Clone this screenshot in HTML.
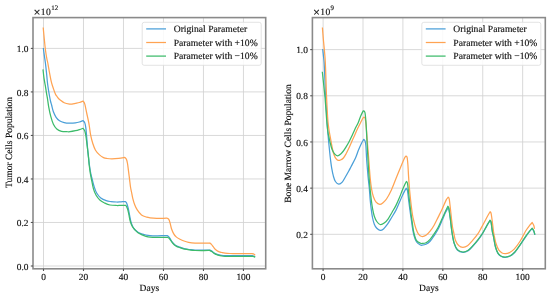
<!DOCTYPE html>
<html><head><meta charset="utf-8"><style>
html,body{margin:0;padding:0;background:#fff;}
svg{display:block;}
text{font-family:"Liberation Serif", serif;font-size:9.5px;fill:#111;stroke:#111;stroke-width:0.15px;text-rendering:geometricPrecision;}
.tl{font-size:9.4px;}
.lt{font-size:9.65px;}
.g{stroke:#d2d2d2;stroke-width:0.85;}
.sp{fill:none;stroke:#8a8a8a;stroke-width:1.6;}
.tk{stroke:#555;stroke-width:1.1;}
.lg{fill:#fff;fill-opacity:0.85;stroke:#dcdcdc;stroke-width:0.8;}
</style></head><body>
<svg width="550" height="297" viewBox="0 0 550 297">
<rect width="550" height="297" fill="#fff"/>
<line x1="43.5" y1="17.6" x2="43.5" y2="268.8" class="g"/>
<line x1="83.49" y1="17.6" x2="83.49" y2="268.8" class="g"/>
<line x1="123.48" y1="17.6" x2="123.48" y2="268.8" class="g"/>
<line x1="163.47" y1="17.6" x2="163.47" y2="268.8" class="g"/>
<line x1="203.46" y1="17.6" x2="203.46" y2="268.8" class="g"/>
<line x1="243.45" y1="17.6" x2="243.45" y2="268.8" class="g"/>
<line x1="33" y1="266" x2="265.7" y2="266" class="g"/>
<line x1="33" y1="222.48" x2="265.7" y2="222.48" class="g"/>
<line x1="33" y1="178.96" x2="265.7" y2="178.96" class="g"/>
<line x1="33" y1="135.44" x2="265.7" y2="135.44" class="g"/>
<line x1="33" y1="91.92" x2="265.7" y2="91.92" class="g"/>
<line x1="33" y1="48.4" x2="265.7" y2="48.4" class="g"/>
<path d="M43.30,48.00 C43.48,49.33 44.05,53.50 44.40,56.00 C44.75,58.50 45.05,60.20 45.40,63.00 C45.75,65.80 46.17,69.60 46.50,72.80 C46.83,76.00 47.10,79.52 47.40,82.20 C47.70,84.88 47.95,86.60 48.30,88.90 C48.65,91.20 49.12,93.90 49.50,96.00 C49.88,98.10 50.25,100.00 50.60,101.50 C50.95,103.00 51.13,103.28 51.60,105.00 C52.07,106.72 52.65,109.75 53.40,111.80 C54.15,113.85 55.08,115.82 56.10,117.30 C57.12,118.78 58.15,119.82 59.50,120.70 C60.85,121.58 62.52,122.18 64.20,122.60 C65.88,123.02 67.73,123.15 69.60,123.20 C71.47,123.25 73.77,123.10 75.40,122.90 C77.03,122.70 78.12,122.38 79.40,122.00 C80.68,121.62 82.48,120.83 83.10,120.60 C83.38,120.98 84.33,121.62 84.80,122.90 C85.27,124.18 85.60,126.12 85.90,128.30 C86.20,130.48 86.35,133.02 86.60,136.00 C86.85,138.98 87.10,142.72 87.40,146.20 C87.70,149.68 88.07,153.77 88.40,156.90 C88.73,160.03 89.02,162.30 89.40,165.00 C89.78,167.70 90.25,170.78 90.70,173.10 C91.15,175.42 91.53,176.67 92.10,178.90 C92.67,181.13 93.32,184.10 94.10,186.50 C94.88,188.90 95.68,191.38 96.80,193.30 C97.92,195.22 99.23,196.77 100.80,198.00 C102.37,199.23 104.50,200.10 106.20,200.70 C107.90,201.30 109.25,201.38 111.00,201.60 C112.75,201.82 115.03,201.97 116.70,202.00 C118.37,202.03 119.53,201.87 121.00,201.80 C122.47,201.73 124.75,201.63 125.50,201.60 C125.72,201.90 126.35,202.30 126.80,203.40 C127.25,204.50 127.75,206.28 128.20,208.20 C128.65,210.12 129.05,212.67 129.50,214.90 C129.95,217.13 130.33,219.58 130.90,221.60 C131.47,223.62 132.22,225.63 132.90,227.00 C133.58,228.37 134.15,228.93 135.00,229.80 C135.85,230.67 136.92,231.53 138.00,232.20 C139.08,232.87 140.17,233.33 141.50,233.80 C142.83,234.27 144.58,234.70 146.00,235.00 C147.42,235.30 148.17,235.47 150.00,235.60 C151.83,235.73 154.75,235.78 157.00,235.80 C159.25,235.82 161.75,235.73 163.50,235.70 C165.25,235.67 166.83,235.62 167.50,235.60 C167.83,235.93 168.83,236.70 169.50,237.60 C170.17,238.50 170.72,239.88 171.50,241.00 C172.28,242.12 173.30,243.45 174.20,244.30 C175.10,245.15 175.93,245.62 176.90,246.10 C177.87,246.58 178.65,246.75 180.00,247.20 C181.35,247.65 183.33,248.40 185.00,248.80 C186.67,249.20 188.33,249.38 190.00,249.60 C191.67,249.82 192.68,250.00 195.00,250.10 C197.32,250.20 201.47,250.22 203.90,250.20 C206.33,250.18 208.65,250.03 209.60,250.00 C209.95,250.17 210.93,250.50 211.70,251.00 C212.47,251.50 213.28,252.43 214.20,253.00 C215.12,253.57 216.02,254.02 217.20,254.40 C218.38,254.78 220.00,255.10 221.30,255.30 C222.60,255.50 222.72,255.55 225.00,255.60 C227.28,255.65 231.67,255.60 235.00,255.60 C238.33,255.60 242.20,255.60 245.00,255.60 C247.80,255.60 250.67,255.60 251.80,255.60 C252.08,255.67 252.93,255.83 253.50,256.00 C254.07,256.17 254.92,256.50 255.20,256.60" fill="none" stroke="#4a9fd8" stroke-width="1.25" stroke-linejoin="round"/>
<path d="M43.20,27.50 C43.32,28.75 43.67,32.58 43.90,35.00 C44.13,37.42 44.38,39.83 44.60,42.00 C44.82,44.17 44.93,45.83 45.20,48.00 C45.47,50.17 45.88,53.00 46.20,55.00 C46.52,57.00 46.85,58.75 47.10,60.00 C47.35,61.25 47.32,60.48 47.70,62.50 C48.08,64.52 48.78,68.82 49.40,72.10 C50.02,75.38 50.72,79.40 51.40,82.20 C52.08,85.00 52.82,86.88 53.50,88.90 C54.18,90.92 54.92,93.03 55.50,94.30 C56.08,95.57 56.50,95.80 57.00,96.50 C57.50,97.20 57.97,97.92 58.50,98.50 C59.03,99.08 59.25,99.30 60.20,100.00 C61.15,100.70 62.63,102.02 64.20,102.70 C65.77,103.38 68.30,103.87 69.60,104.10 C70.90,104.33 71.03,104.22 72.00,104.10 C72.97,103.98 74.17,103.67 75.40,103.40 C76.63,103.13 78.12,102.88 79.40,102.50 C80.68,102.12 82.48,101.33 83.10,101.10 C83.38,101.60 84.18,102.03 84.80,104.10 C85.42,106.17 86.13,110.37 86.80,113.50 C87.47,116.63 88.33,120.48 88.80,122.90 C89.27,125.32 89.28,125.92 89.60,128.00 C89.92,130.08 90.17,132.82 90.70,135.40 C91.23,137.98 92.00,141.03 92.80,143.50 C93.60,145.97 94.38,148.30 95.50,150.20 C96.62,152.10 98.17,153.67 99.50,154.90 C100.83,156.13 102.25,157.00 103.50,157.60 C104.75,158.20 105.58,158.28 107.00,158.50 C108.42,158.72 110.05,158.92 112.00,158.90 C113.95,158.88 116.57,158.65 118.70,158.40 C120.83,158.15 123.78,157.57 124.80,157.40 C125.08,157.73 126.05,158.38 126.50,159.40 C126.95,160.42 127.18,161.70 127.50,163.50 C127.82,165.30 128.07,167.63 128.40,170.20 C128.73,172.77 129.15,176.10 129.50,178.90 C129.85,181.70 130.17,184.82 130.50,187.00 C130.83,189.18 131.13,190.15 131.50,192.00 C131.87,193.85 132.17,195.97 132.70,198.10 C133.23,200.23 133.92,202.78 134.70,204.80 C135.48,206.82 136.27,208.52 137.40,210.20 C138.53,211.88 139.93,213.73 141.50,214.90 C143.07,216.07 145.38,216.72 146.80,217.20 C148.22,217.68 148.35,217.62 150.00,217.80 C151.65,217.98 154.45,218.22 156.70,218.30 C158.95,218.38 161.82,218.33 163.50,218.30 C165.18,218.27 166.25,218.13 166.80,218.10 C167.13,218.32 168.23,218.50 168.80,219.40 C169.37,220.30 169.75,221.93 170.20,223.50 C170.65,225.07 170.93,227.12 171.50,228.80 C172.07,230.48 172.82,232.25 173.60,233.60 C174.38,234.95 175.13,235.97 176.20,236.90 C177.27,237.83 178.70,238.52 180.00,239.20 C181.30,239.88 182.58,240.48 184.00,241.00 C185.42,241.52 186.67,241.95 188.50,242.30 C190.33,242.65 192.43,242.95 195.00,243.10 C197.57,243.25 201.47,243.22 203.90,243.20 C206.33,243.18 208.65,243.03 209.60,243.00 C209.87,243.18 210.60,243.50 211.20,244.10 C211.80,244.70 212.53,245.75 213.20,246.60 C213.87,247.45 214.37,248.40 215.20,249.20 C216.03,250.00 217.10,250.85 218.20,251.40 C219.30,251.95 220.67,252.20 221.80,252.50 C222.93,252.80 223.63,253.03 225.00,253.20 C226.37,253.37 227.50,253.45 230.00,253.50 C232.50,253.55 236.37,253.50 240.00,253.50 C243.63,253.50 249.83,253.50 251.80,253.50 C252.08,253.57 252.93,253.62 253.50,253.90 C254.07,254.18 254.92,254.98 255.20,255.20" fill="none" stroke="#ffa352" stroke-width="1.25" stroke-linejoin="round"/>
<path d="M43.00,69.40 C43.17,70.87 43.60,75.40 44.00,78.20 C44.40,81.00 44.95,83.52 45.40,86.20 C45.85,88.88 46.33,92.08 46.70,94.30 C47.07,96.52 47.27,97.42 47.60,99.50 C47.93,101.58 48.18,104.02 48.70,106.80 C49.22,109.58 49.92,113.28 50.70,116.20 C51.48,119.12 52.38,122.17 53.40,124.30 C54.42,126.43 55.45,127.83 56.80,129.00 C58.15,130.17 59.82,130.85 61.50,131.30 C63.18,131.75 65.48,131.63 66.90,131.70 C68.32,131.77 68.58,131.87 70.00,131.70 C71.42,131.53 73.83,131.05 75.40,130.70 C76.97,130.35 78.12,130.00 79.40,129.60 C80.68,129.20 82.48,128.52 83.10,128.30 C83.38,128.75 84.33,129.72 84.80,131.00 C85.27,132.28 85.50,133.47 85.90,136.00 C86.30,138.53 86.77,142.72 87.20,146.20 C87.63,149.68 88.17,153.77 88.50,156.90 C88.83,160.03 88.90,162.30 89.20,165.00 C89.50,167.70 89.93,170.78 90.30,173.10 C90.67,175.42 90.88,176.32 91.40,178.90 C91.92,181.48 92.62,185.87 93.40,188.60 C94.18,191.33 94.98,193.35 96.10,195.30 C97.22,197.25 98.65,199.00 100.10,200.30 C101.55,201.60 103.15,202.32 104.80,203.10 C106.45,203.88 108.02,204.60 110.00,205.00 C111.98,205.40 114.87,205.45 116.70,205.50 C118.53,205.55 119.47,205.32 121.00,205.30 C122.53,205.28 125.08,205.38 125.90,205.40 C126.17,205.97 127.02,207.33 127.50,208.80 C127.98,210.27 128.35,212.17 128.80,214.20 C129.25,216.23 129.63,218.98 130.20,221.00 C130.77,223.02 131.40,224.82 132.20,226.30 C133.00,227.78 134.03,228.82 135.00,229.90 C135.97,230.98 136.92,232.02 138.00,232.80 C139.08,233.58 140.17,234.02 141.50,234.60 C142.83,235.18 144.58,235.88 146.00,236.30 C147.42,236.72 148.17,236.92 150.00,237.10 C151.83,237.28 154.75,237.35 157.00,237.40 C159.25,237.45 161.75,237.42 163.50,237.40 C165.25,237.38 166.83,237.32 167.50,237.30 C167.83,237.53 168.83,237.98 169.50,238.70 C170.17,239.42 170.72,240.60 171.50,241.60 C172.28,242.60 173.28,243.87 174.20,244.70 C175.12,245.53 176.03,246.12 177.00,246.60 C177.97,247.08 178.67,247.17 180.00,247.60 C181.33,248.03 183.33,248.80 185.00,249.20 C186.67,249.60 188.33,249.78 190.00,250.00 C191.67,250.22 192.68,250.40 195.00,250.50 C197.32,250.60 201.47,250.62 203.90,250.60 C206.33,250.58 208.65,250.43 209.60,250.40 C209.95,250.57 210.93,250.90 211.70,251.40 C212.47,251.90 213.28,252.82 214.20,253.40 C215.12,253.98 216.02,254.48 217.20,254.90 C218.38,255.32 220.00,255.67 221.30,255.90 C222.60,256.13 222.72,256.22 225.00,256.30 C227.28,256.38 231.67,256.38 235.00,256.40 C238.33,256.42 242.08,256.40 245.00,256.40 C247.92,256.40 251.25,256.40 252.50,256.40 C252.75,256.43 253.55,256.45 254.00,256.60 C254.45,256.75 255.00,257.18 255.20,257.30" fill="none" stroke="#3cbb6a" stroke-width="1.25" stroke-linejoin="round"/>
<rect x="33" y="17.6" width="232.7" height="251.2" class="sp"/>
<line x1="43.5" y1="268.8" x2="43.5" y2="271" class="tk"/>
<text x="43.5" y="279.8" text-anchor="middle" class="tl">0</text>
<line x1="83.49" y1="268.8" x2="83.49" y2="271" class="tk"/>
<text x="83.49" y="279.8" text-anchor="middle" class="tl">20</text>
<line x1="123.48" y1="268.8" x2="123.48" y2="271" class="tk"/>
<text x="123.48" y="279.8" text-anchor="middle" class="tl">40</text>
<line x1="163.47" y1="268.8" x2="163.47" y2="271" class="tk"/>
<text x="163.47" y="279.8" text-anchor="middle" class="tl">60</text>
<line x1="203.46" y1="268.8" x2="203.46" y2="271" class="tk"/>
<text x="203.46" y="279.8" text-anchor="middle" class="tl">80</text>
<line x1="243.45" y1="268.8" x2="243.45" y2="271" class="tk"/>
<text x="243.45" y="279.8" text-anchor="middle" class="tl">100</text>
<line x1="30.8" y1="266" x2="33" y2="266" class="tk"/>
<text x="28.5" y="269.7" text-anchor="end" class="tl">0.0</text>
<line x1="30.8" y1="222.48" x2="33" y2="222.48" class="tk"/>
<text x="28.5" y="226.18" text-anchor="end" class="tl">0.2</text>
<line x1="30.8" y1="178.96" x2="33" y2="178.96" class="tk"/>
<text x="28.5" y="182.66" text-anchor="end" class="tl">0.4</text>
<line x1="30.8" y1="135.44" x2="33" y2="135.44" class="tk"/>
<text x="28.5" y="139.14" text-anchor="end" class="tl">0.6</text>
<line x1="30.8" y1="91.92" x2="33" y2="91.92" class="tk"/>
<text x="28.5" y="95.62" text-anchor="end" class="tl">0.8</text>
<line x1="30.8" y1="48.4" x2="33" y2="48.4" class="tk"/>
<text x="28.5" y="52.1" text-anchor="end" class="tl">1.0</text>
<text x="149.35" y="290.5" text-anchor="middle">Days</text>
<text transform="translate(11.6,142.4) rotate(-90)" text-anchor="middle">Tumor Cells Population</text>
<text x="33.25" y="14.8"><tspan font-family="DejaVu Serif, Liberation Serif, serif" font-size="9">×</tspan><tspan font-size="9.6" letter-spacing="0.4">10</tspan><tspan font-size="6.9" dy="-5.15">12</tspan></text>
<rect x="142.2" y="22.3" width="119" height="43" rx="2" ry="2" class="lg"/>
<line x1="146.2" y1="28.9" x2="166" y2="28.9" stroke="#4a9fd8" stroke-width="1.25"/>
<text x="173.7" y="32" class="lt">Original Parameter</text>
<line x1="146.2" y1="42.5" x2="166" y2="42.5" stroke="#ffa352" stroke-width="1.25"/>
<text x="173.7" y="45.6" class="lt">Parameter with +10%</text>
<line x1="146.2" y1="56.1" x2="166" y2="56.1" stroke="#3cbb6a" stroke-width="1.25"/>
<text x="173.7" y="59.2" class="lt">Parameter with −10%</text>
<line x1="323.1" y1="17.6" x2="323.1" y2="268.8" class="g"/>
<line x1="363.01" y1="17.6" x2="363.01" y2="268.8" class="g"/>
<line x1="402.92" y1="17.6" x2="402.92" y2="268.8" class="g"/>
<line x1="442.83" y1="17.6" x2="442.83" y2="268.8" class="g"/>
<line x1="482.74" y1="17.6" x2="482.74" y2="268.8" class="g"/>
<line x1="522.65" y1="17.6" x2="522.65" y2="268.8" class="g"/>
<line x1="312.4" y1="234.32" x2="545.3" y2="234.32" class="g"/>
<line x1="312.4" y1="188.14" x2="545.3" y2="188.14" class="g"/>
<line x1="312.4" y1="141.96" x2="545.3" y2="141.96" class="g"/>
<line x1="312.4" y1="95.78" x2="545.3" y2="95.78" class="g"/>
<line x1="312.4" y1="49.6" x2="545.3" y2="49.6" class="g"/>
<path d="M322.70,49.00 C322.82,50.08 323.17,53.33 323.40,55.50 C323.63,57.67 323.90,59.25 324.10,62.00 C324.30,64.75 324.43,68.17 324.60,72.00 C324.77,75.83 324.95,81.00 325.10,85.00 C325.25,89.00 325.33,92.67 325.50,96.00 C325.67,99.33 325.90,101.83 326.10,105.00 C326.30,108.17 326.50,111.67 326.70,115.00 C326.90,118.33 327.12,122.17 327.30,125.00 C327.48,127.83 327.57,129.15 327.80,132.00 C328.03,134.85 328.38,138.73 328.70,142.10 C329.02,145.47 329.37,149.02 329.70,152.20 C330.03,155.38 330.37,158.55 330.70,161.20 C331.03,163.85 331.25,165.60 331.70,168.10 C332.15,170.60 332.78,173.97 333.40,176.20 C334.02,178.43 334.50,180.17 335.40,181.50 C336.30,182.83 337.67,184.08 338.80,184.20 C339.93,184.32 341.08,183.43 342.20,182.20 C343.32,180.97 344.38,178.70 345.50,176.80 C346.62,174.90 347.98,172.48 348.90,170.80 C349.82,169.12 349.90,168.83 351.00,166.70 C352.10,164.57 354.30,160.65 355.50,158.00 C356.70,155.35 357.22,153.22 358.20,150.80 C359.18,148.38 360.47,145.42 361.40,143.50 C362.33,141.58 363.40,140.00 363.80,139.30 C364.03,139.67 364.85,140.38 365.20,141.50 C365.55,142.62 365.65,142.88 365.90,146.00 C366.15,149.12 366.40,155.82 366.70,160.20 C367.00,164.58 367.42,169.00 367.70,172.30 C367.98,175.60 368.13,177.37 368.40,180.00 C368.67,182.63 369.00,184.77 369.30,188.10 C369.60,191.43 369.90,196.67 370.20,200.00 C370.50,203.33 370.72,205.18 371.10,208.10 C371.48,211.02 371.97,214.82 372.50,217.50 C373.03,220.18 373.58,222.40 374.30,224.20 C375.02,226.00 375.83,227.28 376.80,228.30 C377.77,229.32 378.98,230.20 380.10,230.30 C381.22,230.40 382.27,229.92 383.50,228.90 C384.73,227.88 386.15,226.10 387.50,224.20 C388.85,222.30 390.18,219.85 391.60,217.50 C393.02,215.15 394.77,212.47 396.00,210.10 C397.23,207.73 397.98,205.62 399.00,203.30 C400.02,200.98 401.02,198.52 402.10,196.20 C403.18,193.88 404.80,190.72 405.50,189.40 C406.20,188.08 406.17,188.48 406.30,188.30 C406.50,188.72 407.08,188.60 407.50,190.80 C407.92,193.00 408.28,197.47 408.80,201.50 C409.32,205.53 410.15,211.75 410.60,215.00 C411.05,218.25 411.18,218.83 411.50,221.00 C411.82,223.17 412.08,225.58 412.50,228.00 C412.92,230.42 413.32,233.17 414.00,235.50 C414.68,237.83 415.52,240.42 416.60,242.00 C417.68,243.58 419.60,244.47 420.50,245.00 C421.40,245.53 421.08,245.33 422.00,245.20 C422.92,245.07 424.65,244.85 426.00,244.20 C427.35,243.55 428.75,242.72 430.10,241.30 C431.45,239.88 432.75,237.75 434.10,235.70 C435.45,233.65 436.85,231.60 438.20,229.00 C439.55,226.40 440.98,222.85 442.20,220.10 C443.42,217.35 444.55,214.48 445.50,212.50 C446.45,210.52 447.50,208.92 447.90,208.20 C448.05,208.26 448.42,206.92 448.80,208.55 C449.18,210.17 449.82,215.15 450.20,217.95 C450.58,220.75 450.80,222.93 451.10,225.35 C451.40,227.77 451.50,229.47 452.00,232.45 C452.50,235.43 453.20,240.33 454.10,243.25 C455.00,246.17 455.95,248.43 457.40,249.95 C458.85,251.47 461.00,252.23 462.80,252.35 C464.60,252.47 466.40,251.83 468.20,250.65 C470.00,249.47 471.97,247.02 473.60,245.25 C475.23,243.48 476.48,242.03 478.00,240.05 C479.52,238.07 481.23,235.70 482.70,233.35 C484.17,231.00 485.57,228.08 486.80,225.95 C488.03,223.82 489.55,221.45 490.10,220.55 C490.27,220.88 490.72,220.65 491.10,222.55 C491.48,224.45 492.02,229.68 492.40,231.95 C492.78,234.22 492.90,233.67 493.40,236.15 C493.90,238.63 494.62,243.93 495.40,246.85 C496.18,249.77 497.10,252.03 498.10,253.65 C499.10,255.27 500.17,255.93 501.40,256.55 C502.63,257.17 504.03,257.43 505.50,257.35 C506.97,257.27 508.63,256.90 510.20,256.05 C511.77,255.20 513.20,254.15 514.90,252.25 C516.60,250.35 518.58,247.27 520.40,244.65 C522.22,242.03 524.23,238.80 525.80,236.55 C527.37,234.30 528.73,232.48 529.80,231.15 C530.87,229.82 531.80,228.98 532.20,228.55 C532.47,228.98 533.35,230.08 533.80,231.15 C534.25,232.22 534.72,234.32 534.90,234.95" fill="none" stroke="#4a9fd8" stroke-width="1.25" stroke-linejoin="round"/>
<path d="M322.40,27.50 C322.50,28.75 322.80,32.58 323.00,35.00 C323.20,37.42 323.38,39.62 323.60,42.00 C323.82,44.38 324.08,46.97 324.30,49.30 C324.52,51.63 324.73,53.88 324.90,56.00 C325.07,58.12 325.15,58.83 325.30,62.00 C325.45,65.17 325.65,70.67 325.80,75.00 C325.95,79.33 326.07,84.17 326.20,88.00 C326.33,91.83 326.43,94.33 326.60,98.00 C326.77,101.67 326.97,106.00 327.20,110.00 C327.43,114.00 327.70,118.67 328.00,122.00 C328.30,125.33 328.68,127.83 329.00,130.00 C329.32,132.17 329.53,132.98 329.90,135.00 C330.27,137.02 330.72,139.52 331.20,142.10 C331.68,144.68 332.30,148.30 332.80,150.50 C333.30,152.70 333.70,153.98 334.20,155.30 C334.70,156.62 335.13,157.55 335.80,158.40 C336.47,159.25 337.42,160.13 338.20,160.40 C338.98,160.67 339.63,160.40 340.50,160.00 C341.37,159.60 342.47,159.05 343.40,158.00 C344.33,156.95 345.20,155.32 346.10,153.70 C347.00,152.08 347.90,150.22 348.80,148.30 C349.70,146.38 350.60,144.22 351.50,142.20 C352.40,140.18 353.20,138.43 354.20,136.20 C355.20,133.97 356.38,131.17 357.50,128.80 C358.62,126.43 359.98,123.80 360.90,122.00 C361.82,120.20 362.50,118.82 363.00,118.00 C363.50,117.18 363.75,117.25 363.90,117.10 C364.12,117.33 364.80,116.70 365.20,118.50 C365.60,120.30 365.97,124.32 366.30,127.90 C366.63,131.48 366.87,135.73 367.20,140.00 C367.53,144.27 367.95,149.02 368.30,153.50 C368.65,157.98 368.98,162.82 369.30,166.90 C369.62,170.98 369.85,174.47 370.20,178.00 C370.55,181.53 370.87,184.97 371.40,188.10 C371.93,191.23 372.62,194.45 373.40,196.80 C374.18,199.15 375.03,200.95 376.10,202.20 C377.17,203.45 378.67,204.20 379.80,204.30 C380.93,204.40 381.78,203.68 382.90,202.80 C384.02,201.92 385.08,201.13 386.50,199.00 C387.92,196.87 389.80,193.45 391.40,190.00 C393.00,186.55 394.53,182.17 396.10,178.30 C397.67,174.43 399.45,170.07 400.80,166.80 C402.15,163.53 403.35,160.48 404.20,158.70 C405.05,156.92 405.62,156.53 405.90,156.10 C406.10,156.32 406.77,155.95 407.10,157.40 C407.43,158.85 407.65,161.55 407.90,164.80 C408.15,168.05 408.33,172.87 408.60,176.90 C408.87,180.93 409.20,185.48 409.50,189.00 C409.80,192.52 410.08,195.00 410.40,198.00 C410.72,201.00 411.03,204.08 411.40,207.00 C411.77,209.92 412.22,213.25 412.60,215.50 C412.98,217.75 413.17,218.38 413.70,220.50 C414.23,222.62 415.00,225.92 415.80,228.20 C416.60,230.48 417.50,232.82 418.50,234.20 C419.50,235.58 420.55,236.32 421.80,236.50 C423.05,236.68 424.62,236.18 426.00,235.30 C427.38,234.42 428.75,232.88 430.10,231.20 C431.45,229.52 432.75,227.55 434.10,225.20 C435.45,222.85 436.85,219.80 438.20,217.10 C439.55,214.40 440.88,211.83 442.20,209.00 C443.52,206.17 445.10,202.07 446.10,200.10 C447.10,198.13 447.85,197.68 448.20,197.20 C448.37,197.47 448.87,197.20 449.20,198.80 C449.53,200.40 449.82,203.43 450.20,206.80 C450.58,210.17 451.12,215.63 451.50,219.00 C451.88,222.37 452.15,224.83 452.50,227.00 C452.85,229.17 453.12,229.80 453.60,232.00 C454.08,234.20 454.53,237.93 455.40,240.20 C456.27,242.47 457.57,244.42 458.80,245.60 C460.03,246.78 461.35,247.27 462.80,247.30 C464.25,247.33 465.93,246.87 467.50,245.80 C469.07,244.73 470.45,242.93 472.20,240.90 C473.95,238.87 476.47,235.82 478.00,233.60 C479.53,231.38 479.93,230.28 481.40,227.60 C482.87,224.92 485.35,220.15 486.80,217.50 C488.25,214.85 489.55,212.67 490.10,211.70 C490.27,211.98 490.75,211.88 491.10,213.40 C491.45,214.92 491.80,217.77 492.20,220.80 C492.60,223.83 493.12,228.90 493.50,231.60 C493.88,234.30 494.07,234.97 494.50,237.00 C494.93,239.03 495.40,241.65 496.10,243.80 C496.80,245.95 497.70,248.37 498.70,249.90 C499.70,251.43 500.97,252.37 502.10,253.00 C503.23,253.63 504.27,253.77 505.50,253.70 C506.73,253.63 508.05,253.35 509.50,252.60 C510.95,251.85 512.42,251.13 514.20,249.20 C515.98,247.27 518.27,244.07 520.20,241.00 C522.13,237.93 524.20,233.43 525.80,230.80 C527.40,228.17 528.73,226.58 529.80,225.20 C530.87,223.82 531.80,222.95 532.20,222.50 C532.47,223.00 533.42,224.45 533.80,225.50 C534.18,226.55 534.38,228.25 534.50,228.80" fill="none" stroke="#ffa352" stroke-width="1.25" stroke-linejoin="round"/>
<path d="M322.30,71.80 C322.45,73.17 322.90,77.22 323.20,80.00 C323.50,82.78 323.80,85.67 324.10,88.50 C324.40,91.33 324.75,94.25 325.00,97.00 C325.25,99.75 325.38,102.00 325.60,105.00 C325.82,108.00 326.05,111.67 326.30,115.00 C326.55,118.33 326.83,122.17 327.10,125.00 C327.37,127.83 327.60,130.00 327.90,132.00 C328.20,134.00 328.53,135.25 328.90,137.00 C329.27,138.75 329.57,140.42 330.10,142.50 C330.63,144.58 331.32,147.55 332.10,149.50 C332.88,151.45 333.90,153.15 334.80,154.20 C335.70,155.25 336.52,155.83 337.50,155.80 C338.48,155.77 339.72,154.80 340.70,154.00 C341.68,153.20 342.50,152.18 343.40,151.00 C344.30,149.82 345.20,148.37 346.10,146.90 C347.00,145.43 347.90,143.88 348.80,142.20 C349.70,140.52 350.50,138.93 351.50,136.80 C352.50,134.67 353.68,131.75 354.80,129.40 C355.92,127.05 357.25,124.85 358.20,122.70 C359.15,120.55 359.67,118.48 360.50,116.50 C361.33,114.52 362.75,111.75 363.20,110.80 C363.48,111.07 364.45,110.67 364.90,112.40 C365.35,114.13 365.63,117.95 365.90,121.20 C366.17,124.45 366.28,127.93 366.50,131.90 C366.72,135.87 366.95,140.32 367.20,145.00 C367.45,149.68 367.75,155.50 368.00,160.00 C368.25,164.50 368.48,168.67 368.70,172.00 C368.92,175.33 369.08,177.32 369.30,180.00 C369.52,182.68 369.67,184.77 370.00,188.10 C370.33,191.43 370.85,196.45 371.30,200.00 C371.75,203.55 372.20,206.70 372.70,209.40 C373.20,212.10 373.62,214.18 374.30,216.20 C374.98,218.22 375.83,220.12 376.80,221.50 C377.77,222.88 378.87,224.23 380.10,224.50 C381.33,224.77 382.85,224.05 384.20,223.10 C385.55,222.15 386.88,220.62 388.20,218.80 C389.52,216.98 390.80,214.43 392.10,212.20 C393.40,209.97 394.77,207.85 396.00,205.40 C397.23,202.95 398.48,199.93 399.50,197.50 C400.52,195.07 401.27,192.83 402.10,190.80 C402.93,188.77 403.78,186.85 404.50,185.30 C405.22,183.75 406.08,182.13 406.40,181.50 C406.58,181.82 407.10,181.18 407.50,183.40 C407.90,185.62 408.28,190.28 408.80,194.80 C409.32,199.32 410.03,205.97 410.60,210.50 C411.17,215.03 411.67,218.33 412.20,222.00 C412.73,225.67 413.10,229.45 413.80,232.50 C414.50,235.55 415.28,238.52 416.40,240.30 C417.52,242.08 419.57,242.68 420.50,243.20 C421.43,243.72 421.08,243.48 422.00,243.40 C422.92,243.32 424.65,243.38 426.00,242.70 C427.35,242.02 428.75,240.77 430.10,239.30 C431.45,237.83 432.75,235.92 434.10,233.90 C435.45,231.88 436.85,229.77 438.20,227.20 C439.55,224.63 440.97,221.18 442.20,218.50 C443.43,215.82 444.65,213.15 445.60,211.10 C446.55,209.05 447.52,207.02 447.90,206.20 C448.05,206.53 448.42,206.30 448.80,208.20 C449.18,210.10 449.82,214.80 450.20,217.60 C450.58,220.40 450.80,222.58 451.10,225.00 C451.40,227.42 451.50,229.12 452.00,232.10 C452.50,235.08 453.20,239.98 454.10,242.90 C455.00,245.82 455.95,248.08 457.40,249.60 C458.85,251.12 461.00,251.88 462.80,252.00 C464.60,252.12 466.40,251.48 468.20,250.30 C470.00,249.12 471.97,246.67 473.60,244.90 C475.23,243.13 476.48,241.68 478.00,239.70 C479.52,237.72 481.23,235.35 482.70,233.00 C484.17,230.65 485.57,227.73 486.80,225.60 C488.03,223.47 489.55,221.10 490.10,220.20 C490.27,220.53 490.72,220.30 491.10,222.20 C491.48,224.10 492.02,229.33 492.40,231.60 C492.78,233.87 492.90,233.32 493.40,235.80 C493.90,238.28 494.62,243.58 495.40,246.50 C496.18,249.42 497.10,251.68 498.10,253.30 C499.10,254.92 500.17,255.58 501.40,256.20 C502.63,256.82 504.03,257.08 505.50,257.00 C506.97,256.92 508.63,256.55 510.20,255.70 C511.77,254.85 513.20,253.80 514.90,251.90 C516.60,250.00 518.58,246.92 520.40,244.30 C522.22,241.68 524.23,238.45 525.80,236.20 C527.37,233.95 528.73,232.13 529.80,230.80 C530.87,229.47 531.80,228.63 532.20,228.20 C532.47,228.63 533.35,229.73 533.80,230.80 C534.25,231.87 534.72,233.97 534.90,234.60" fill="none" stroke="#3cbb6a" stroke-width="1.25" stroke-linejoin="round"/>
<rect x="312.4" y="17.6" width="232.9" height="251.2" class="sp"/>
<line x1="323.1" y1="268.8" x2="323.1" y2="271" class="tk"/>
<text x="323.1" y="279.8" text-anchor="middle" class="tl">0</text>
<line x1="363.01" y1="268.8" x2="363.01" y2="271" class="tk"/>
<text x="363.01" y="279.8" text-anchor="middle" class="tl">20</text>
<line x1="402.92" y1="268.8" x2="402.92" y2="271" class="tk"/>
<text x="402.92" y="279.8" text-anchor="middle" class="tl">40</text>
<line x1="442.83" y1="268.8" x2="442.83" y2="271" class="tk"/>
<text x="442.83" y="279.8" text-anchor="middle" class="tl">60</text>
<line x1="482.74" y1="268.8" x2="482.74" y2="271" class="tk"/>
<text x="482.74" y="279.8" text-anchor="middle" class="tl">80</text>
<line x1="522.65" y1="268.8" x2="522.65" y2="271" class="tk"/>
<text x="522.65" y="279.8" text-anchor="middle" class="tl">100</text>
<line x1="310.2" y1="234.32" x2="312.4" y2="234.32" class="tk"/>
<text x="307.9" y="238.02" text-anchor="end" class="tl">0.2</text>
<line x1="310.2" y1="188.14" x2="312.4" y2="188.14" class="tk"/>
<text x="307.9" y="191.84" text-anchor="end" class="tl">0.4</text>
<line x1="310.2" y1="141.96" x2="312.4" y2="141.96" class="tk"/>
<text x="307.9" y="145.66" text-anchor="end" class="tl">0.6</text>
<line x1="310.2" y1="95.78" x2="312.4" y2="95.78" class="tk"/>
<text x="307.9" y="99.48" text-anchor="end" class="tl">0.8</text>
<line x1="310.2" y1="49.6" x2="312.4" y2="49.6" class="tk"/>
<text x="307.9" y="53.3" text-anchor="end" class="tl">1.0</text>
<text x="428.85" y="290.5" text-anchor="middle">Days</text>
<text transform="translate(290.9,143.6) rotate(-90)" text-anchor="middle">Bone Marrow Cells Population</text>
<text x="312.65" y="14.8"><tspan font-family="DejaVu Serif, Liberation Serif, serif" font-size="9">×</tspan><tspan font-size="9.6" letter-spacing="0.4">10</tspan><tspan font-size="6.9" dy="-5.15">9</tspan></text>
<rect x="421.8" y="22.3" width="119" height="43" rx="2" ry="2" class="lg"/>
<line x1="425.8" y1="28.9" x2="445.6" y2="28.9" stroke="#4a9fd8" stroke-width="1.25"/>
<text x="453.3" y="32" class="lt">Original Parameter</text>
<line x1="425.8" y1="42.5" x2="445.6" y2="42.5" stroke="#ffa352" stroke-width="1.25"/>
<text x="453.3" y="45.6" class="lt">Parameter with +10%</text>
<line x1="425.8" y1="56.1" x2="445.6" y2="56.1" stroke="#3cbb6a" stroke-width="1.25"/>
<text x="453.3" y="59.2" class="lt">Parameter with −10%</text>
</svg>
</body></html>
